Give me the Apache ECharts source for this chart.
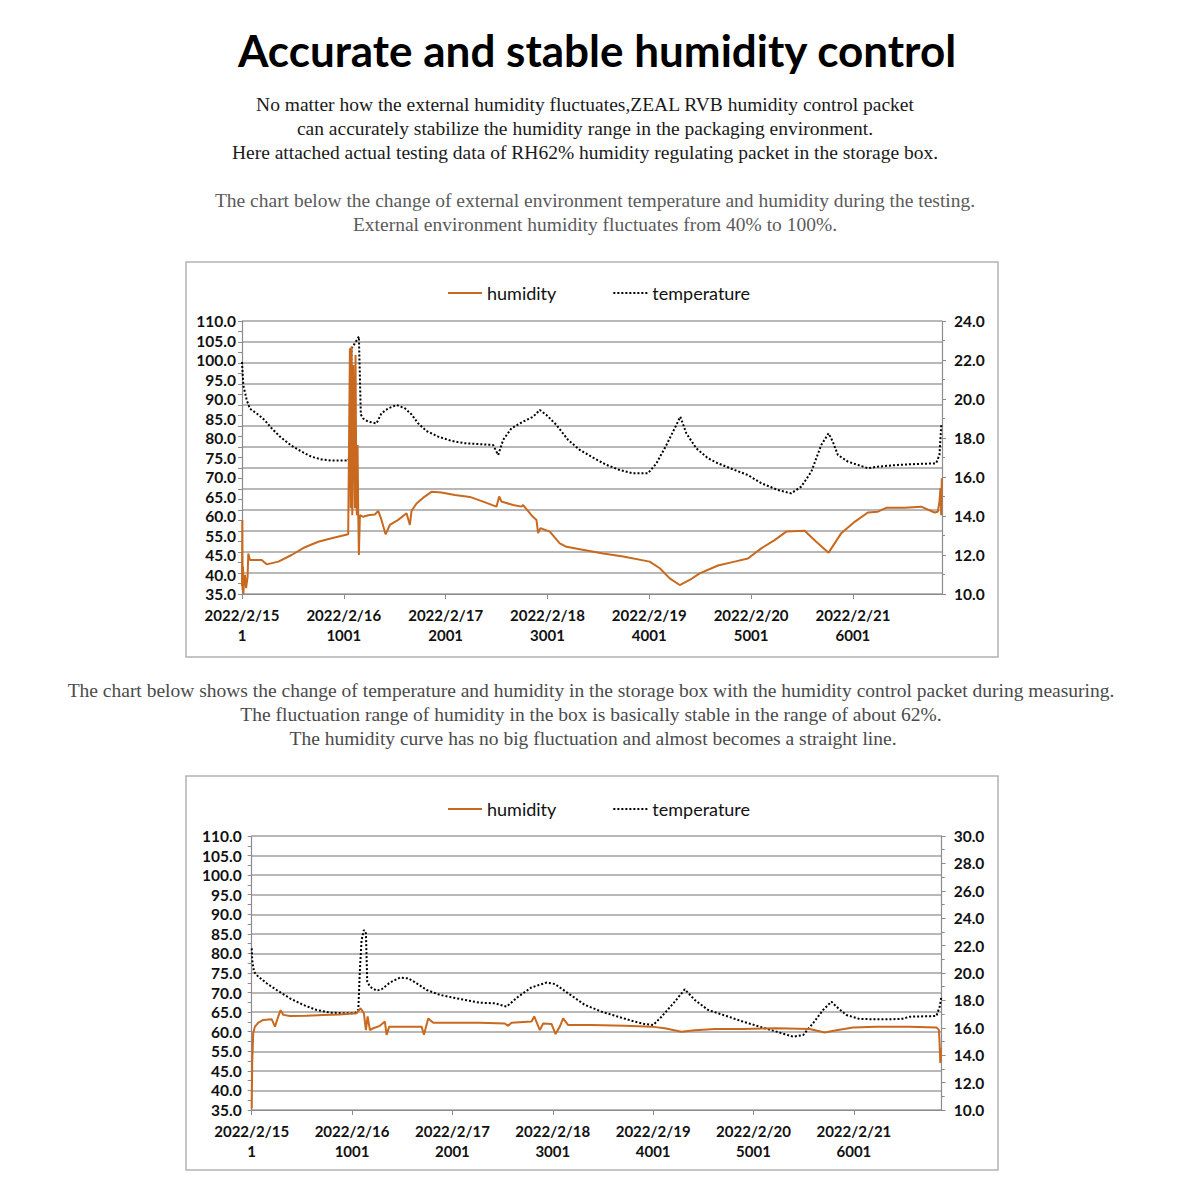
<!DOCTYPE html>
<html>
<head>
<meta charset="utf-8">
<script src="https://cdn.jsdelivr.net/npm/echarts@6/dist/echarts.min.js"></script>
<style>
html,body{margin:0;padding:0;background:#fff;}
#c{width:1200px;height:1200px;}
</style>
</head>
<body>
<div id="c"></div>
<script>
// ---------- data ----------
const xDates = ['2022/2/15','2022/2/16','2022/2/17','2022/2/18','2022/2/19','2022/2/20','2022/2/21'];
const xIndexLabels = ['1','1001','2001','3001','4001','5001','6001'];
const leftTickLabels = ['35.0','40.0','45.0','55.0','60.0','65.0','70.0','75.0','80.0','85.0','90.0','95.0','100.0','105.0','110.0'];
const legendNames = ['humidity','temperature'];

// external environment (top chart): [sample index, value]
const extHumidity = [
 [0,42],[3,59],[6,41],[10,47],[14,40],[20,44],[29,44.9],[40,41.5],[55,44.4],[62,50.4],[78,48.7],[193,48.7],[242,47.6],[357,48.3],[487,50.0],[618,52.0],[749,53.4],[880,54.3],[1043,55.3],
 [1060,103],[1068,62],[1076,103.4],[1083,60.2],[1093,98.7],[1102,77.4],[1108,62],[1115,101.3],[1122,70],[1128,60.2],[1135,78.2],[1141,62],[1148,50.0],[1158,60.2],
 [1190,59.8],[1239,60.2],[1305,60.4],[1338,61.3],[1370,59.0],[1410,55.3],[1452,57.7],[1534,59.0],[1616,60.7],[1649,57.7],[1665,61.3],[1714,63.2],[1780,64.7],[1861,66.2],[1959,66.0],[2090,65.4],[2238,64.9],
 [2368,63.7],[2499,62.4],[2526,65.0],[2548,63.7],[2663,62.8],[2745,62.4],[2761,62.8],[2843,60.2],[2892,59.0],[2908,55.6],[2931,56.9],[3023,56.0],[3121,53.0],[3187,52.1],[3318,51.5],[3547,50.4],[3743,49.6],[4004,48.3],[4103,46.6],[4201,44.0],[4299,42.3],[4397,43.6],[4495,45.3],
 [4675,47.3],[4838,48.3],[4969,49.1],[5100,51.7],[5231,53.8],[5346,56.0],[5526,56.2],[5640,53.4],[5761,50.6],[5886,55.6],[6017,58.5],[6147,60.9],[6245,61.1],[6327,62.1],[6507,62.1],[6671,62.4],[6802,60.9],[6834,61.1],[6850,63.7],[6860,67.1],[6867,60.2],[6873,69.7]
];
const extTemperature = [
 [0,21.9],[3,21.6],[13,20.7],[46,19.95],[78,19.5],[160,19.2],[226,18.9],[291,18.5],[373,18.07],[487,17.6],[585,17.3],[683,17.04],[782,16.9],[880,16.84],[1043,16.84],
 [1060,17.1],[1076,22.6],[1109,22.86],[1148,23.2],[1167,19.2],[1190,19.0],[1239,18.84],[1321,18.75],[1370,19.27],[1436,19.52],[1518,19.69],[1600,19.52],[1665,19.21],[1730,18.75],[1812,18.36],[1927,18.07],[2058,17.85],[2188,17.73],
 [2466,17.64],[2516,17.13],[2565,17.9],[2647,18.5],[2761,18.84],[2859,19.09],[2925,19.44],[2990,19.18],[3088,18.67],[3203,17.9],[3317,17.39],[3448,16.99],[3579,16.62],[3710,16.36],[3841,16.19],[3988,16.19],[4070,16.7],[4168,17.64],[4250,18.5],[4305,19.09],[4364,18.24],[4462,17.47],[4577,16.96],
 [4675,16.7],[4838,16.36],[4969,16.1],[5100,15.68],[5264,15.33],[5394,15.16],[5493,15.51],[5591,16.27],[5689,17.64],[5761,18.24],[5803,17.81],[5852,17.13],[5951,16.79],[6049,16.62],[6147,16.45],[6245,16.53],[6441,16.62],[6638,16.67],[6817,16.7],[6850,17.13],[6867,18.58],[6873,18.75]
];

// storage box (bottom chart): [sample index, value]
const boxHumidity = [
 [0,40.4],[5,51.9],[15,59.6],[32,61.3],[66,62.3],[116,63.0],[199,63.2],[232,61.3],[265,63.9],[288,65.5],[315,64.3],[381,64.0],[547,64.1],[713,64.3],[879,64.4],[1045,64.7],[1085,66.0],[1118,64.7],[1138,60.4],[1155,63.9],[1178,60.4],[1211,60.9],[1277,61.5],[1327,62.6],[1344,59.2],[1370,61.3],[1543,61.3],[1693,61.3],[1716,59.2],[1759,63.4],[1809,62.3],[2041,62.3],[2273,62.3],
 [2522,62.1],[2555,61.5],[2589,62.3],[2788,62.6],[2815,63.9],[2871,60.4],[2904,62.1],[2987,62.0],[3027,59.4],[3070,61.3],[3103,63.4],[3153,61.7],[3386,61.7],[3718,61.5],[3983,61.3],[4116,60.9],[4282,60.0],[4415,60.4],[4614,60.7],
 [4896,60.7],[5228,60.9],[5559,60.7],[5709,59.8],[5826,60.4],[5992,61.1],[6224,61.3],[6556,61.3],[6822,61.1],[6848,60.4],[6854,57.0],[6861,52.0],[6868,55.8]
];
const boxTemperature = [
 [0,21.8],[5,20.95],[22,20.1],[66,19.73],[149,19.25],[248,18.76],[381,18.15],[514,17.67],[647,17.3],[779,17.11],[912,17.06],[1029,17.06],[1062,17.3],[1078,20.22],[1095,22.41],[1118,23.14],[1138,22.9],[1151,19.37],[1178,19.0],[1244,18.71],[1294,18.81],[1377,19.3],[1477,19.66],[1560,19.61],[1643,19.25],[1743,18.76],[1876,18.4],[2041,18.15],[2273,17.83],
 [2423,17.79],[2539,17.54],[2655,18.27],[2788,18.95],[2937,19.3],[3021,19.2],[3153,18.52],[3319,17.67],[3485,17.18],[3651,16.81],[3817,16.45],[3917,16.27],[4000,16.2],[4083,16.81],[4216,17.91],[4315,18.81],[4415,18.03],[4548,17.3],
 [4730,16.86],[4896,16.45],[5062,16.08],[5228,15.72],[5394,15.35],[5494,15.47],[5593,16.33],[5693,17.3],[5776,17.91],[5826,17.54],[5925,16.94],[6058,16.64],[6291,16.62],[6473,16.64],[6556,16.81],[6822,16.86],[6855,17.54],[6872,18.27]
];

// ---------- chart ----------
const HUM_COLOR = '#c8691f';
const AXIS_COLOR = '#8c8c8c';
const GRID_COLOR = '#a0a0a0';
const yLabelFont = {fontFamily:'Lato', fontWeight:'bold', fontSize:15.5, color:'#111'};
const xLabelFont = {fontFamily:'Lato', fontWeight:'bold', fontSize:15, color:'#111'};

function xAxisFor(gridIndex){
  return {
    type:'value', gridIndex, min:0, max:6875, interval:1000,
    axisLine:{show:true, lineStyle:{color:AXIS_COLOR, width:1.2}},
    axisTick:{show:true, length:5, lineStyle:{color:AXIS_COLOR}},
    splitLine:{show:false},
    axisLabel:Object.assign({
      margin:11, lineHeight:20, showMaxLabel:false,
      formatter:function(v){
        if (v % 1000 !== 0) return '';
        const i = v/1000;
        return (xDates[i]||'') + '\n' + (xIndexLabels[i]||'');
      }
    }, xLabelFont)
  };
}
function leftLabelAxis(gridIndex, margin){
  return {
    type:'value', gridIndex, position:'left', min:40, max:110, interval:5,
    axisLine:{show:true, lineStyle:{color:AXIS_COLOR, width:1.2}},
    axisTick:{show:false}, splitLine:{show:false},
    axisLabel:Object.assign({margin, formatter:function(v){ return leftTickLabels[Math.round((v-40)/5)]; }}, yLabelFont)
  };
}
function rightAxis(gridIndex, max){
  return {
    type:'value', gridIndex, position:'right', min:10, max, interval:2,
    axisLine:{show:true, lineStyle:{color:AXIS_COLOR, width:1.2}},
    axisTick:{show:true, length:4, lineStyle:{color:AXIS_COLOR}},
    minorTick:{show:true, splitNumber:2, length:3, lineStyle:{color:AXIS_COLOR}},
    splitLine:{show:false},
    axisLabel:Object.assign({margin:12, formatter:function(v){return v.toFixed(1);}}, yLabelFont)
  };
}
function gridLineAxis(gridIndex, n){
  return {
    type:'value', gridIndex, position:'left', min:0, max:n, interval:1,
    axisLine:{show:false}, axisLabel:{show:false},
    axisTick:{show:true, length:4, lineStyle:{color:AXIS_COLOR}},
    minorTick:{show:true, splitNumber:2, length:4, lineStyle:{color:AXIS_COLOR}},
    splitLine:{show:true, lineStyle:{color:GRID_COLOR, width:1.6}}
  };
}
function legendAt(top){
  return {
    data:legendNames, left:447, top:top, itemWidth:34, itemHeight:14, itemGap:56, padding:0,
    itemStyle:{opacity:0, color:'rgba(0,0,0,0)', borderColor:'rgba(0,0,0,0)', borderWidth:0},
    textStyle:{fontFamily:'Lato', fontSize:18, color:'#111'}
  };
}
function mkText(str, x, y, font, fill){
  return {type:'text', x:x, y:y, silent:true, style:{text:str, font:font, fill:fill, align:'center', verticalAlign:'middle'}};
}

const serif = '19.5px "Liberation Serif"';
const option = {
  animation:false,
  backgroundColor:'#fff',
  graphic:[
    mkText('Accurate and stable humidity control', 597, 50, 'bold 44px Lato', '#000'),
    mkText('No matter how the external humidity fluctuates,ZEAL RVB humidity control packet', 585, 104, serif, '#1a1a1a'),
    mkText('can accurately stabilize the humidity range in the packaging environment.', 585, 128, serif, '#1a1a1a'),
    mkText('Here attached actual testing data of RH62% humidity regulating packet in the storage box.', 585, 152, serif, '#1a1a1a'),
    mkText('The chart below the change of external environment temperature and humidity during the testing.', 595, 200, serif, '#5a5a5a'),
    mkText('External environment humidity fluctuates from 40% to 100%.', 595, 224, serif, '#5a5a5a'),
    mkText('The chart below shows the change of temperature and humidity in the storage box with the humidity control packet during measuring.', 591, 690, serif, '#4a4a4a'),
    mkText('The fluctuation range of humidity in the box is basically stable in the range of about 62%.', 591, 714, serif, '#4a4a4a'),
    mkText('The humidity curve has no big fluctuation and almost becomes a straight line.', 593, 738, serif, '#4a4a4a'),
    {type:'rect', silent:true, z:-10, shape:{x:186, y:262, width:812, height:395}, style:{fill:'none', stroke:'#b3b3b3', lineWidth:1.5}},
    {type:'rect', silent:true, z:-10, shape:{x:186, y:776, width:812, height:394}, style:{fill:'none', stroke:'#b3b3b3', lineWidth:1.5}}
  ],
  legend:[legendAt(284), legendAt(800)],
  grid:[
    {left:242, right:258, top:321, height:273},
    {left:251.7, right:258.3, top:836, height:274}
  ],
  xAxis:[xAxisFor(0), xAxisFor(1)],
  yAxis:[
    leftLabelAxis(0, 6), rightAxis(0, 24), gridLineAxis(0, 13),
    leftLabelAxis(1, 10), rightAxis(1, 30), gridLineAxis(1, 14)
  ],
  series:[
    {name:'temperature', type:'line', xAxisIndex:0, yAxisIndex:1, data:extTemperature, showSymbol:false, symbol:'none',
     lineStyle:{color:'#000', width:2, type:[2,2]}, itemStyle:{color:'#000'}},
    {name:'humidity', type:'line', xAxisIndex:0, yAxisIndex:0, data:extHumidity, showSymbol:false, symbol:'none',
     lineStyle:{color:HUM_COLOR, width:2}, itemStyle:{color:HUM_COLOR}},
    {name:'temperature', type:'line', xAxisIndex:1, yAxisIndex:4, data:boxTemperature, showSymbol:false, symbol:'none',
     lineStyle:{color:'#000', width:2, type:[2,2]}, itemStyle:{color:'#000'}},
    {name:'humidity', type:'line', xAxisIndex:1, yAxisIndex:3, data:boxHumidity, showSymbol:false, symbol:'none',
     lineStyle:{color:HUM_COLOR, width:2}, itemStyle:{color:HUM_COLOR}}
  ]
};
const chart = echarts.init(document.getElementById('c'), null, {renderer:'svg', width:1200, height:1200});
chart.setOption(option);
</script>
</body>
</html>
